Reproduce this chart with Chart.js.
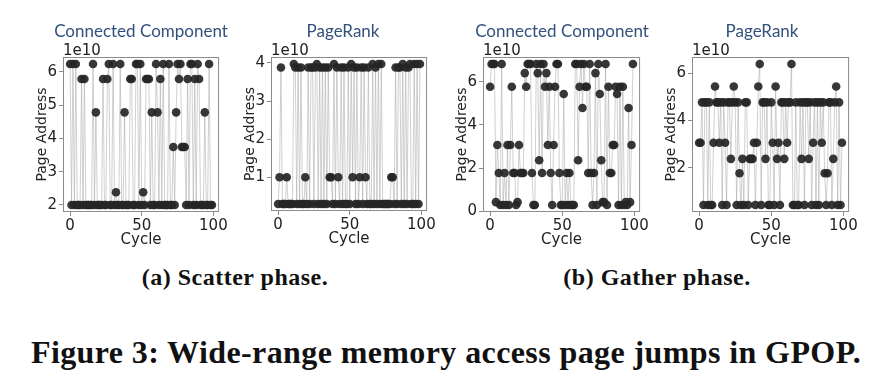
<!DOCTYPE html>
<html lang="en">
<head>
  <meta charset="UTF-8">
  <title>Page jumps</title>
  <script src="https://cdn.jsdelivr.net/npm/chart.js"></script>
  <style>
    body {
      margin: 0;
      background: #FFFFFF;
      width: 892px;
      height: 379px;
      position: relative;
      overflow: hidden;
      font-family: 'DejaVu Sans', sans-serif;
    }
    canvas { position: absolute; }
    .title {
      position: absolute;
      transform: translateX(-50%);
      font-family: Lato, sans-serif;
      font-size: 17px;
      color: #34507C;
      white-space: nowrap;
      line-height: 1;
    }
    .cap {
      position: absolute;
      transform: translateX(-50%);
      font-family: 'Liberation Serif', serif;
      font-weight: bold;
      color: #111;
      white-space: nowrap;
      line-height: 1;
    }
  </style>
</head>
<body>
  <div class="cap" style="left:235px; top:265px; font-size:24px; letter-spacing:0.5px;">(a) Scatter phase.</div>
  <div class="cap" style="left:657px; top:265px; font-size:24px; letter-spacing:0.5px;">(b) Gather phase.</div>
  <div class="cap" style="left:446px; top:336px; font-size:32px; letter-spacing:0.4px;">Figure 3: Wide-range memory access page jumps in GPOP.</div>

  <script>
    // page address values in units of 1e10, one per cycle (0..99)
    const scatterCC = [6.23,2,6.23,2,6.23,2,2,2,5.78,2, 5.78,2,2,2,2,2,6.23,2,4.78,2,
      2,2,2,5.78,2,2,5.78,6.23,2,2, 6.23,2,2.38,2,2,6.23,2,2,4.78,2,
      2,2,5.78,5.78,2,2,6.23,6.23,2,6.23, 2,2.38,2,5.78,5.78,5.78,2,4.78,2,2,
      6.23,4.78,2,5.78,2,6.23,2,2,2,6.23, 2,2,3.74,2,4.78,6.23,5.78,6.23,3.74,3.74,
      3.74,2,5.78,2,6.23,6.23,2,5.78,2,6.23, 5.78,2,2,2,4.78,2,2,6.23,2,2];
    const scatterPR = [0.3,1.0,3.88,0.3,0.3,0.3,1.0,0.3,0.3,0.3, 0.3,3.97,3.88,0.3,3.88,0.3,3.88,0.3,0.3,1.0,
      0.3,3.88,0.3,3.88,3.88,0.3,3.88,3.97,0.3,3.88, 0.3,3.88,0.3,3.88,0.3,3.88,1.0,1.0,0.3,3.97,
      0.3,3.88,1.0,0.3,3.88,0.3,3.88,0.3,0.3,3.88, 0.3,3.97,1.0,3.88,0.3,3.88,0.3,1.0,3.88,0.3,
      3.88,1.0,0.3,3.88,0.3,0.3,3.97,0.3,3.88,0.3, 3.97,0.3,3.97,0.3,0.3,0.3,0.3,0.3,0.3,1.0,
      1.0,0.3,3.88,0.3,3.88,3.88,0.3,3.97,0.3,3.88, 0.3,3.88,3.97,0.3,0.3,3.97,0.3,3.97,0.3,3.97];
    const gatherCC = [5.77,6.82,6.82,6.82,0.42,3.07,1.77,0.29,6.82,0.29, 1.77,0.29,3.07,0.29,3.07,5.77,1.77,1.77,0.29,0.42,
      3.07,1.77,1.77,1.77,6.4,5.77,6.82,6.82,6.82,1.77, 0.29,0.29,6.82,6.4,2.36,6.82,1.77,6.82,5.77,6.4,
      3.07,5.77,1.77,0.29,3.07,5.77,6.82,6.82,1.77,0.29, 0.29,5.43,0.29,1.77,0.29,1.77,0.29,0.29,0.29,6.82,
      6.82,2.36,5.77,6.82,4.78,6.82,5.77,5.77,1.77,6.82, 1.77,0.29,1.77,6.4,0.29,6.82,5.43,2.36,0.42,0.42,
      6.82,0.29,5.77,1.77,1.77,3.07,3.07,5.77,5.43,0.29, 5.77,0.29,5.77,0.29,0.42,0.29,4.78,0.42,3.07,6.82];
    const gatherPR = [3.06,3.06,4.77,0.43,4.77,4.77,0.43,4.77,0.43,0.43, 3.06,5.44,4.77,4.77,3.06,4.77,0.43,4.77,3.06,0.43,
      4.77,4.77,2.38,4.77,5.44,4.77,0.43,4.77,1.77,0.43, 2.38,0.43,4.77,4.77,0.43,2.38,2.38,2.38,3.06,0.43,
      3.06,5.44,6.39,0.43,4.77,4.77,2.38,4.77,0.43,0.43, 4.77,3.06,0.43,5.44,2.38,3.06,0.43,4.77,4.77,2.38,
      4.77,3.06,4.77,4.77,6.39,0.43,0.43,4.77,0.43,0.43, 4.77,2.38,4.77,0.43,4.77,4.77,2.38,4.77,0.43,3.06,
      4.77,0.43,4.77,0.43,4.77,3.06,4.77,1.77,0.43,1.77, 4.77,4.77,0.43,2.38,4.77,5.44,0.43,4.77,0.43,3.06];

    const xTicks = [0, 50, 100];
    const yTicksScatterCC = [2, 3, 4, 5, 6];
    const yTicksScatterPR = [1, 2, 3, 4];
    const yTicksGatherCC = [0, 2, 4, 6];
    const yTicksGatherPR = [2, 4, 6];

    const panels = [
      { title: 'Connected Component', titleX: 141, box: [63, 57, 221, 212], values: scatterCC, yTicks: yTicksScatterCC },
      { title: 'PageRank',            titleX: 343, box: [271, 57, 429, 211], values: scatterPR, yTicks: yTicksScatterPR },
      { title: 'Connected Component', titleX: 562, box: [483, 57, 642, 212], values: gatherCC,  yTicks: yTicksGatherCC },
      { title: 'PageRank',            titleX: 762, box: [692, 57, 851, 212], values: gatherPR,  yTicks: yTicksGatherPR }
    ];

    const AXIS_W = 62, AXIS_H = 40, TOP = 22, RIGHT = 8;

    // box, offset text and axis labels, matplotlib style
    const frame = {
      id: 'frame',
      afterDraw(chart) {
        const { ctx, chartArea: a } = chart;
        ctx.save();
        ctx.strokeStyle = '#8C8C8C';
        ctx.lineWidth = 1;
        ctx.strokeRect(a.left + 0.5, a.top + 0.5, a.right - a.left - 1, a.bottom - a.top - 1);
        ctx.fillStyle = '#222';
        ctx.font = '15px "DejaVu Sans"';
        ctx.textAlign = 'left';
        ctx.textBaseline = 'alphabetic';
        ctx.fillText('1e10', a.left, a.top - 2);
        ctx.textAlign = 'center';
        ctx.fillText('Cycle', (a.left + a.right) / 2, a.bottom + 32);
        ctx.translate(a.left - 17, (a.top + a.bottom) / 2);
        ctx.rotate(-Math.PI / 2);
        ctx.font = '14px "DejaVu Sans"';
        ctx.fillText('Page Address', 0, 0);
        ctx.restore();
      }
    };

    function lims(vals) {
      const lo = Math.min(...vals), hi = Math.max(...vals);
      const m = (hi - lo) * 0.05;
      return [lo - m, hi + m];
    }

    panels.forEach(p => {
      const [l, t, r, b] = p.box;
      const cv = document.createElement('canvas');
      const w = (r - l) + AXIS_W + RIGHT, h = (b - t) + TOP + AXIS_H;
      cv.width = w; cv.height = h;
      cv.style.left = (l - AXIS_W) + 'px';
      cv.style.top = (t - TOP) + 'px';
      cv.style.width = w + 'px';
      cv.style.height = h + 'px';
      document.body.appendChild(cv);

      const tt = document.createElement('div');
      tt.className = 'title';
      tt.textContent = p.title;
      tt.style.left = p.titleX + 'px';
      tt.style.top = '22px';
      document.body.appendChild(tt);

      const [ymin, ymax] = lims(p.values);
      const [xmin, xmax] = lims(p.values.map((v, i) => i));

      new Chart(cv, {
        type: 'scatter',
        data: {
          datasets: [{
            data: p.values.map((v, i) => ({ x: i, y: v })),
            showLine: true,
            borderColor: 'rgba(170,170,170,0.55)',
            borderWidth: 1,
            pointRadius: 4.3,
            pointBackgroundColor: 'rgba(38,38,38,0.92)',
            pointBorderWidth: 0
          }]
        },
        options: {
          responsive: false,
          animation: false,
          layout: { padding: { top: TOP, right: RIGHT, left: 0, bottom: 0 } },
          plugins: { legend: { display: false }, tooltip: { enabled: false } },
          scales: {
            x: {
              type: 'linear', min: xmin, max: xmax,
              afterBuildTicks: s => { s.ticks = xTicks.map(v => ({ value: v })); },
              afterFit: s => { s.height = AXIS_H; },
              grid: { drawOnChartArea: false, drawTicks: true, tickLength: 4, color: '#8C8C8C' },
              border: { display: false },
              ticks: { color: '#222', font: { family: 'DejaVu Sans', size: 15 }, padding: 1, maxRotation: 0 }
            },
            y: {
              type: 'linear', min: ymin, max: ymax,
              afterBuildTicks: s => { s.ticks = p.yTicks.map(v => ({ value: v })); },
              afterFit: s => { s.width = AXIS_W; },
              grid: { drawOnChartArea: false, drawTicks: true, tickLength: 4, color: '#8C8C8C' },
              border: { display: false },
              ticks: { color: '#222', font: { family: 'DejaVu Sans', size: 15 }, padding: 2 }
            }
          }
        },
        plugins: [frame]
      });
    });
  </script>
</body>
</html>
